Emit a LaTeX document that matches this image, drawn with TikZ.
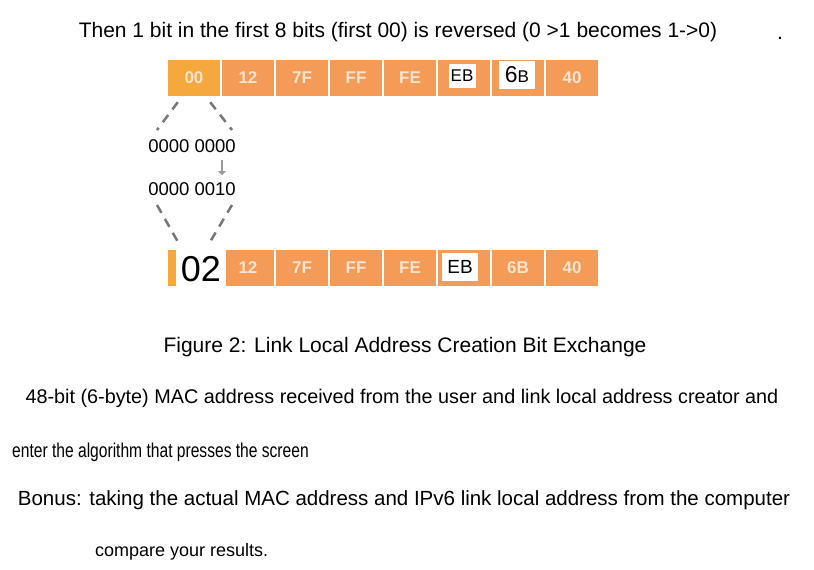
\documentclass[tikz,border=0pt]{standalone}
\usepackage{fontspec}
\setmainfont{Liberation Sans}
\usepackage{graphicx}
\usetikzlibrary{arrows.meta}
\definecolor{cellor}{HTML}{F39B57}
\definecolor{firstor}{HTML}{F5A83E}
\definecolor{celltx}{HTML}{FBE3CF}
\definecolor{dashg}{HTML}{777777}
\begin{document}
\begin{tikzpicture}[x=1pt,y=-1pt,
  cell/.style={fill=cellor,minimum width=52pt,minimum height=36pt,inner sep=0pt,text=celltx,font=\bfseries\fontsize{17}{17}\selectfont},
  whitebox/.style={fill=white,inner sep=2pt,text=black},
  dsh/.style={draw=dashg,line width=2.5pt,dash pattern=on 9pt off 7pt},
  txt/.style={inner sep=0pt,font=\fontsize{21}{24}\selectfont}]
\useasboundingbox[fill=white] (0,0) rectangle (814,570);
\node[txt] (title) at (398,32) {Then 1 bit in the first 8 bits (first 00) is reversed (0 >1 becomes 1->0)};
\node[txt] (dot) at (780,38) {.};
% top row
\foreach \i/\t in {0/00,1/12,2/7F,3/FF,4/FE,5/{},6/{},7/40}{
  \node[cell] (t\i) at (194+\i*54,78) {\t};
}
\node[cell,fill=firstor] at (t0) {00};
\node[whitebox,font=\fontsize{17}{17}\selectfont,minimum width=27pt,minimum height=24pt,inner sep=0pt] (teb) at (462,76) {EB};
\node[whitebox,font=\fontsize{23}{23}\selectfont,minimum width=36pt,minimum height=28pt,inner sep=0pt] (t6b) at (517,75) {6\fontsize{17}{17}\selectfont B};
% bottom row
\foreach \i/\t in {0/{},1/12,2/7F,3/FF,4/FE,5/{},6/6B,7/40}{
  \node[cell] (b\i) at (194+\i*54,268) {\t};
}
\node[cell,fill=firstor] at (b0) {};
\node[whitebox,font=\fontsize{36}{36}\selectfont,minimum width=50pt,minimum height=38pt,inner sep=0pt] (b02) at (201,269) {02};
\node[whitebox,font=\fontsize{19}{19}\selectfont,minimum width=36pt,minimum height=28pt,inner sep=0pt] (beb) at (460,267) {EB};
% bits
\node[txt,font=\fontsize{18.5}{18.5}\selectfont,fill=white,inner sep=2pt] (bits1) at (192,146) {0000 0000};
\node[txt,font=\fontsize{18.5}{18.5}\selectfont,fill=white,inner sep=2pt] (bits2) at (192,189) {0000 0010};
\coordinate (a1) at (222,160); \coordinate (a2) at (222,175);
\draw[draw=gray!80,line width=2.5pt,-{Triangle[width=8pt,length=4pt]}] (a1) -- (a2);
\draw[dsh] (t0.south west) ++(10,6) coordinate (d1) -- (157,130);
\draw[dsh] (t0.south east) ++(-10,6) coordinate (d2) -- (232,130);
\draw[dsh] (157,205) -- (178,242);
\draw[dsh] (232,205) -- (210,242);
% captions
\node[txt] (cap) at (405,347) {Figure 2: Link Local Address Creation Bit Exchange};
\node[txt,font=\fontsize{19.8}{22}\selectfont] (l1) at (402,398) {48-bit (6-byte) MAC address received from the user and link local address creator and};
\node[txt,anchor=west] (l2) at (12,452) {\scalebox{0.78}[1]{\fontsize{20}{22}\selectfont enter the algorithm that presses the screen}};
\node[txt,font=\fontsize{20.5}{22}\selectfont] (l3) at (404,500) {Bonus: taking the actual MAC address and IPv6 link local address from the computer};
\node[txt,anchor=west,font=\fontsize{18}{18}\selectfont] (l4) at (95,552) {compare your results.};
\end{tikzpicture}
\end{document}
